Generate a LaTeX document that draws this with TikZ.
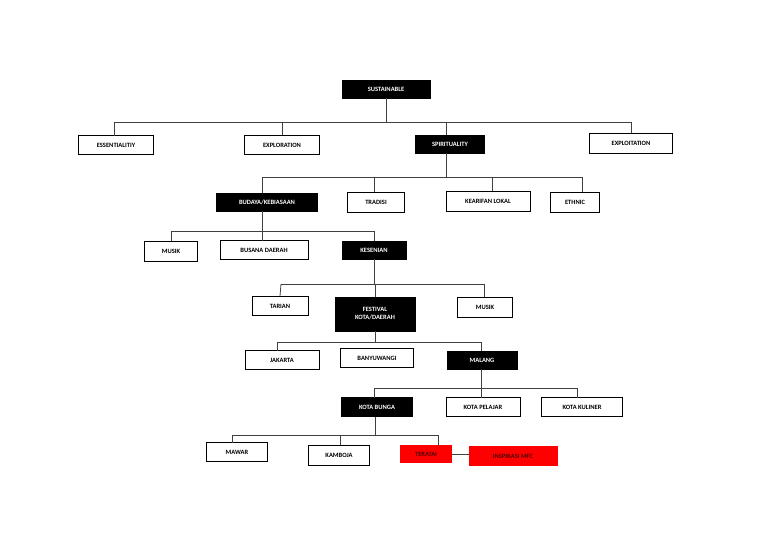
\documentclass[tikz,border=0pt]{standalone}
\usepackage{fontspec}
\setmainfont{Carlito}
\begin{document}
\begin{tikzpicture}[x=1pt,y=-1pt,
  wb/.style={draw=black,line width=0.9pt,fill=white,inner sep=0pt,font=\bfseries\fontsize{6.5}{8}\selectfont,align=center},
  bb/.style={wb,fill=black,text=white},
  rb/.style={wb,draw=red,fill=red,text=black!70!red},
  ln/.style={draw=black!75,line width=0.8pt}]
\useasboundingbox (0,0) rectangle (768,543);
\node[bb,minimum width=88,minimum height=18] (sus) at (386,89) {SUSTAINABLE};
\node[wb,minimum width=75,minimum height=19] (ess) at (116,145) {ESSENTIALITIY};
\node[wb,minimum width=75,minimum height=19] (exr) at (282,145) {EXPLORATION};
\node[bb,minimum width=69,minimum height=18] (spi) at (450,144) {SPIRITUALITY};
\node[wb,minimum width=83,minimum height=20] (exo) at (631,143) {EXPLOITATION};
\coordinate (b1) at (386,122);
\draw[ln] (sus.south) -- (b1);
\draw[ln] (114,122) -- (631,122);
\draw[ln] (114,122) -- (114,136);
\draw[ln] (282,122) -- (exr.north);
\draw[ln] (446,122) -- (446,135);
\draw[ln] (631,122) -- (exo.north);

\node[bb,minimum width=101,minimum height=18] (bud) at (267,202) {BUDAYA/KEBIASAAN};
\node[wb,minimum width=57,minimum height=20] (tra) at (376,202) {TRADISI};
\node[wb,minimum width=84,minimum height=20] (kea) at (488,201) {KEARIFAN LOKAL};
\node[wb,minimum width=49,minimum height=20] (eth) at (575,202) {ETHNIC};
\draw[ln] (446,153) -- (446,177);
\draw[ln] (262,177) -- (582,177);
\draw[ln] (262,177) -- (262,193);
\draw[ln] (374,177) -- (374,192);
\draw[ln] (492,177) -- (492,191);
\draw[ln] (582,177) -- (582,192);

\node[wb,minimum width=53,minimum height=20] (mus) at (171,251) {MUSIK};
\node[wb,minimum width=88,minimum height=19] (bus) at (264,250) {BUSANA DAERAH};
\node[bb,minimum width=64,minimum height=18] (kes) at (374,250) {KESENIAN};
\draw[ln] (262,211) -- (262,231);
\draw[ln] (171,231) -- (374,231);
\draw[ln] (171,231) -- (mus.north);
\draw[ln] (262,231) -- (262,241);
\draw[ln] (374,231) -- (kes.north);

\node[wb,minimum width=56,minimum height=19] (tar) at (280,306) {TARIAN};
\node[bb,minimum width=80,minimum height=34] (fes) at (375,314) {FESTIVAL\\KOTA/DAERAH};
\node[wb,minimum width=55,minimum height=20] (mu2) at (485,307) {MUSIK};
\draw[ln] (kes.south) -- (374,284);
\draw[ln] (281,284) -- (484,284);
\draw[ln] (281,284) -- (tar.north);
\draw[ln] (375,284) -- (fes.north);
\draw[ln] (484,284) -- (484,297);

\node[wb,minimum width=74,minimum height=19] (jak) at (282,360) {JAKARTA};
\node[wb,minimum width=73,minimum height=19] (ban) at (377,358) {BANYUWANGI};
\node[bb,minimum width=70,minimum height=18] (mal) at (482,360) {MALANG};
\draw[ln] (fes.south) -- (375,342);
\draw[ln] (277,342) -- (481,342);
\draw[ln] (277,342) -- (277,351);
\draw[ln] (481,342) -- (481,351);

\node[bb,minimum width=71,minimum height=19] (kb) at (377,407) {KOTA BUNGA};
\node[wb,minimum width=74,minimum height=19] (kp) at (483,407) {KOTA PELAJAR};
\node[wb,minimum width=81,minimum height=19] (kk) at (582,407) {KOTA KULINER};
\draw[ln] (481,369) -- (481,388);
\draw[ln] (374,388) -- (577,388);
\draw[ln] (374,388) -- (374,398);
\draw[ln] (481,388) -- (481,398);
\draw[ln] (577,388) -- (577,398);

\node[wb,minimum width=61,minimum height=19] (maw) at (237,452) {MAWAR};
\node[wb,minimum width=61,minimum height=20] (kam) at (339,455) {KAMBOJA};
\node[rb,minimum width=51,minimum height=17] (ter) at (426,454) {TERATAI};
\node[rb,minimum width=88,minimum height=19] (ins) at (513,456) {INSPIRASI MFC};
\draw[ln] (375,417) -- (375,435);
\draw[ln] (232,435) -- (438,435);
\draw[ln] (232,435) -- (232,443);
\draw[ln] (340,435) -- (340,445);
\draw[ln] (438,435) -- (438,445.5);
\draw[ln] (ter.east) -- (ter.east -| ins.west);
\end{tikzpicture}
\end{document}
